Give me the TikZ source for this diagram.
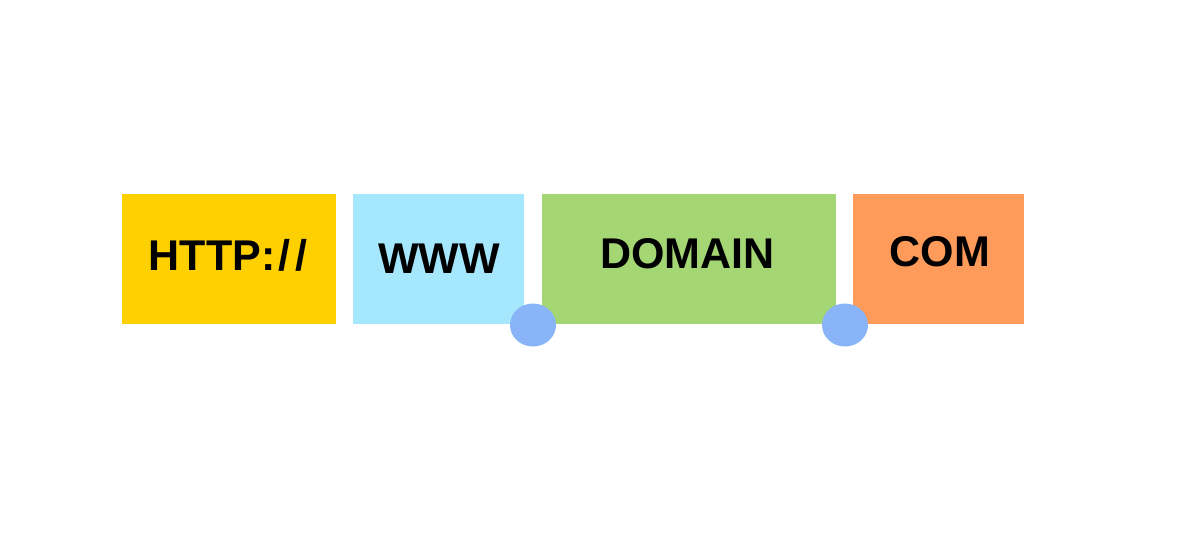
\documentclass[tikz,border=0pt]{standalone}
\usepackage{fontspec}
\setmainfont{Liberation Sans}
\usepackage{tikz}
\usepackage{xcolor}
\usetikzlibrary{positioning,shapes.geometric}
\definecolor{httpyellow}{HTML}{FFD000}
\definecolor{wwwblue}{HTML}{A5E8FD}
\definecolor{domaingreen}{HTML}{A5D674}
\definecolor{comorange}{HTML}{FF9B5A}
\definecolor{jointblue}{HTML}{8AB4F8}

\begin{document}
\begin{tikzpicture}[x=1pt,y=-1pt,
    part/.style={rectangle, inner sep=0pt, minimum height=130pt},
    word/.style={font=\fontsize{43}{50}\selectfont\bfseries, anchor=base, inner sep=0pt},
    joint/.style={ellipse, fill=jointblue, inner sep=0pt, minimum width=46pt, minimum height=43pt}]
    \useasboundingbox (0,0) rectangle (1188,537);
    % URL parts
    \node[part, fill=httpyellow, minimum width=214pt] (http) at (229,259) {};
    \node[part, fill=wwwblue, minimum width=171pt] (www) at (438.5,259) {};
    \node[part, fill=domaingreen, minimum width=294pt] (domain) at (689,259) {};
    \node[part, fill=comorange, minimum width=171pt] (com) at (938.5,259) {};
    \node[word] (httpText) at (228,271) {HTTP:\kern3pt/\kern5pt/};
    \node[word] (wwwText) at (439,273) {WWW};
    \node[word] (domainText) at (687.5,269) {DOMAIN};
    \node[word] (comText) at (940,267) {COM};
    % joints
    \node[joint] (jointA) at (533,325) {};
    \node[joint] (jointB) at (845,325) {};
\end{tikzpicture}
\end{document}
